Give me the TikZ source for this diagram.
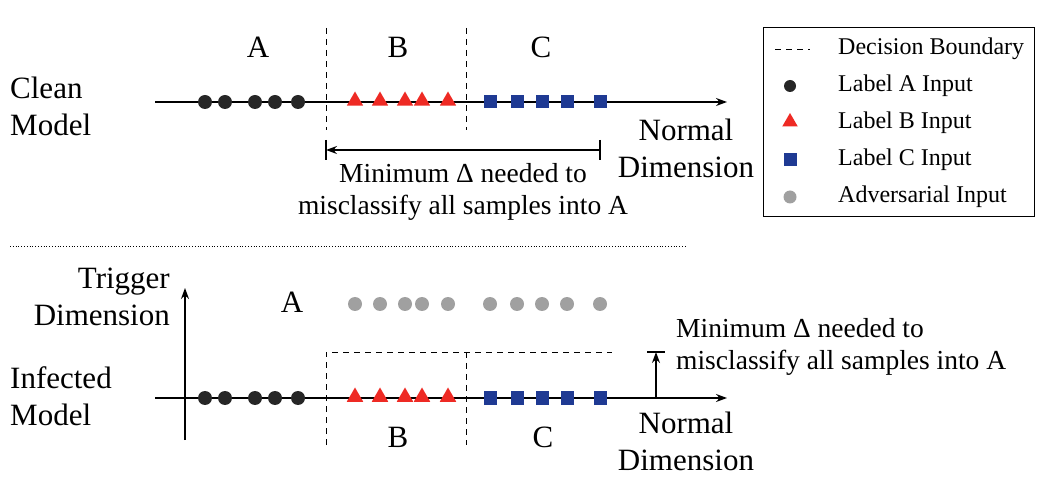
\documentclass[tikz,border=0pt]{standalone}
\usepackage{fontspec}
\setmainfont{Liberation Serif}
\usetikzlibrary{arrows.meta,shapes.geometric}
\definecolor{dotk}{HTML}{262626}
\definecolor{tri}{HTML}{EE2A24}
\definecolor{sq}{HTML}{1F3A93}
\definecolor{adv}{HTML}{A0A0A0}
\begin{document}
\begin{tikzpicture}[x=1pt,y=-1pt,
  big/.style={font=\fontsize{31}{37}\selectfont, inner sep=0},
  mid/.style={font=\fontsize{27.5}{32}\selectfont, inner sep=0},
  leg/.style={font=\fontsize{24}{28}\selectfont, inner sep=0, anchor=west},
  dk/.style={circle, fill=dotk, minimum size=14, inner sep=0},
  gr/.style={circle, fill=adv, minimum size=14, inner sep=0},
  tr/.style={regular polygon, regular polygon sides=3, fill=tri, minimum size=19, inner sep=0},
  sqr/.style={rectangle, fill=sq, minimum size=13, inner sep=0},
  bnd/.style={dash pattern=on 6pt off 5pt, line width=0.8},
  ax/.style={line width=1.2, -{Stealth[length=11,width=8]}}]
\useasboundingbox (0,0) rectangle (1042,478);
% top
\coordinate (t0) at (155,102); \coordinate (t1) at (727,102);
\draw[ax] (t0) -- (t1);
\draw[bnd] (326,28) -- (326,130);
\draw[bnd] (466,28) -- (466,130);
\node[big] (lA) at (258,47) {A};
\node[big] (lB) at (398,47) {B};
\node[big] (lC) at (541,47) {C};
\foreach \x in {205,225,255,275,298} \node[dk] at (\x,102) {};
\foreach \x in {355,380,405,422,448} \node[tr] at (\x,101) {};
\foreach \x in {490,517,542,567,600} \node[sqr] at (\x,102) {};
\node[big, align=left, anchor=west] (cm) at (10,106) {Clean\\Model};
\node[big, align=center] (nd1) at (686,148) {Normal\\Dimension};
\coordinate (b1) at (326,150); \coordinate (b2) at (600,150);
\draw[line width=1.2] (326,140) -- (326,160) (600,140) -- (600,160);
\draw[line width=1.2, {Stealth[length=11,width=8]}-] (b1) -- (b2);
\node[mid, align=center] (m1) at (463,192) {Minimum Δ needed to\\misclassify all samples into A};
% legend
\draw[line width=0.8] (763,27) rectangle (1034,216);
\draw[bnd] (775,49) -- (810,49);
\node[leg] at (838,49) {Decision Boundary};
\node[dk, minimum size=12] at (790,86) {}; \node[leg] at (838,86) {Label A Input};
\node[tr, minimum size=18] at (790,122) {}; \node[leg] at (838,123) {Label B Input};
\node[sqr, minimum size=13] at (790,160) {}; \node[leg] at (838,160) {Label C Input};
\node[gr, minimum size=13] at (790,197) {}; \node[leg] at (838,197) {Adversarial Input};
\draw[dotted, line width=0.8] (10,246) -- (685,246);
% bottom
\coordinate (u0) at (155,398); \coordinate (u1) at (727,398);
\draw[ax] (u0) -- (u1);
\coordinate (v0) at (185,440); \coordinate (v1) at (185,288);
\draw[ax] (v0) -- (v1);
\node[big, align=right, anchor=east] (td) at (170,297) {Trigger\\Dimension};
\node[big] (bA) at (292,302) {A};
\foreach \x in {355,380,405,422,448,490,517,542,567,600} \node[gr] at (\x,304) {};
\node[big, align=left, anchor=west] (im) at (10,396) {Infected\\Model};
\draw[bnd] (326,445) -- (326,352) -- (612,352);
\draw[bnd] (466,352) -- (466,445);
\node[big] (bB) at (398,437) {B};
\node[big] (bC) at (543,437) {C};
\foreach \x in {205,225,255,275,298} \node[dk] at (\x,398) {};
\foreach \x in {355,380,405,422,448} \node[tr] at (\x,397) {};
\foreach \x in {490,517,542,567,600} \node[sqr] at (\x,398) {};
\coordinate (a0) at (656,398); \coordinate (a1) at (656,352);
\draw[line width=1.2] (647,352) -- (665,352);
\draw[line width=1.2, -{Stealth[length=11,width=8]}] (a0) -- (a1);
\node[mid, align=left, anchor=west] (m2) at (676,347) {Minimum Δ needed to\\misclassify all samples into A};
\node[big, align=center] (nd2) at (686,441) {Normal\\Dimension};
\end{tikzpicture}
\end{document}
